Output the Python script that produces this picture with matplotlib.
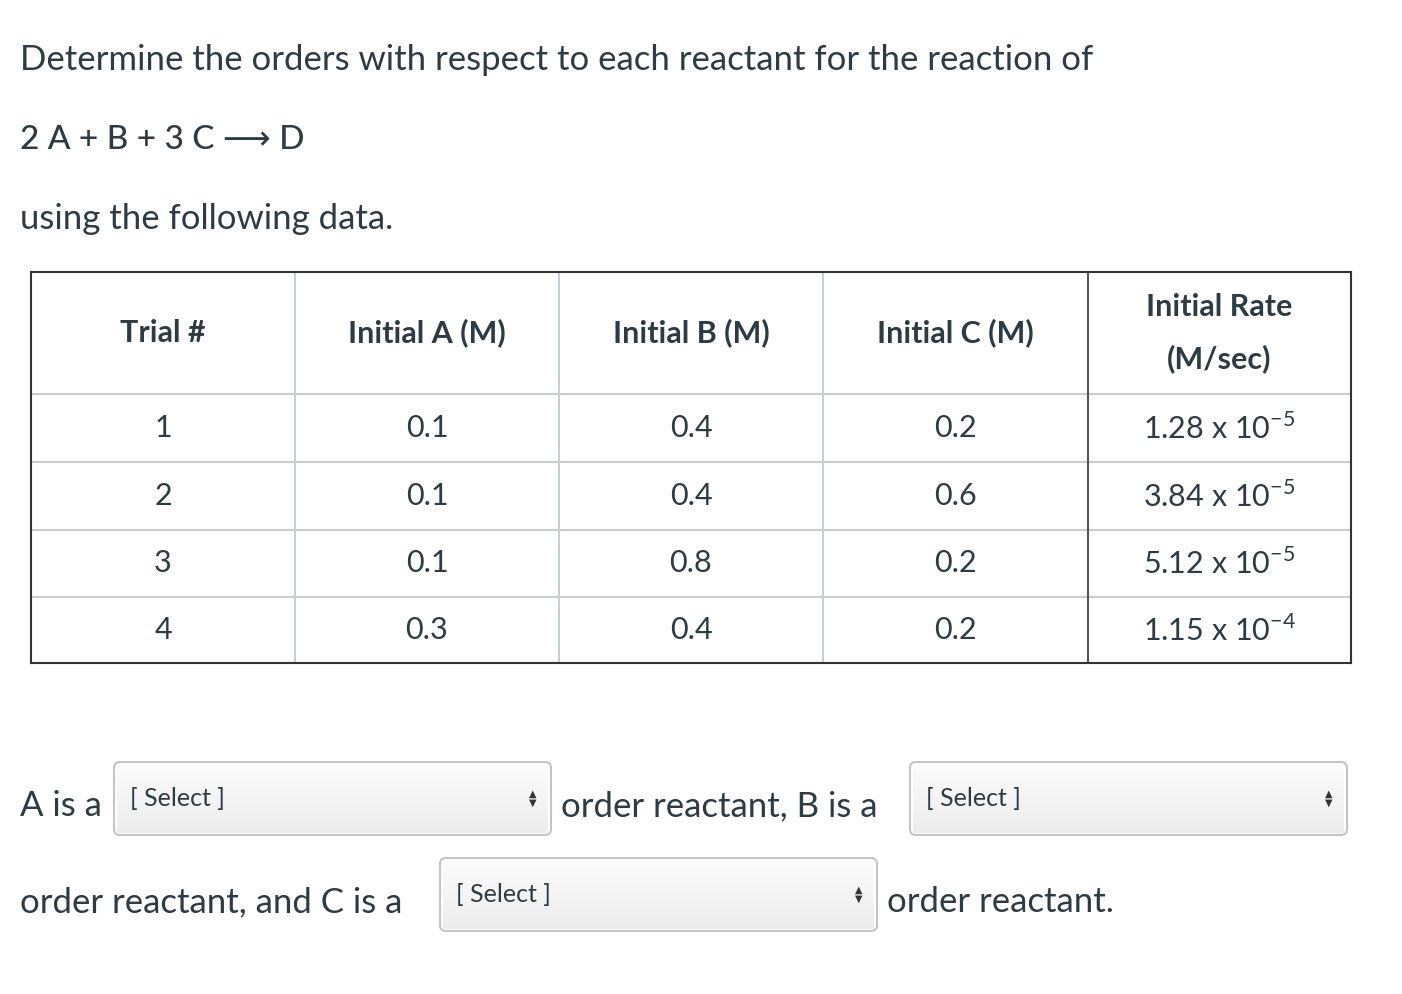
import matplotlib.pyplot as plt
from matplotlib.patches import FancyBboxPatch
import numpy as np

plt.rcParams['font.family'] = ['Lato', 'DejaVu Sans']
plt.rcParams['mathtext.fontset'] = 'custom'
plt.rcParams['mathtext.rm'] = 'Lato'

headers = ["Trial #", "Initial A (M)", "Initial B (M)", "Initial C (M)", "Initial Rate\n(M/sec)"]
trials = ["1", "2", "3", "4"]
conc_a = ["0.1", "0.1", "0.1", "0.3"]
conc_b = ["0.4", "0.4", "0.8", "0.4"]
conc_c = ["0.2", "0.6", "0.2", "0.2"]
rate_mant = ["1.28", "3.84", "5.12", "1.15"]
rate_exp = ["-5", "-5", "-5", "-4"]

txt = '#2d3b45'
fig = plt.figure(figsize=(14.02, 9.94), dpi=100)
ax = fig.add_axes([0, 0, 1, 1])
ax.set_xlim(0, 1402)
ax.set_ylim(994, 0)
ax.axis('off')

ax.text(20, 60, "Determine the orders with respect to each reactant for the reaction of",
        fontsize=25, color=txt, va='center')
ax.text(20, 140, "2 A + B + 3 C \u27f6 D", fontsize=24, color=txt, va='center', fontweight='medium')
ax.text(20, 219, "using the following data.", fontsize=25, color=txt, va='center')

# table grid
col_x = [31, 295, 559, 823, 1088, 1351]
row_y = [272, 394, 462, 530, 597, 663]
light = '#c7cdd1'
for y in row_y[1:-1]:
    ax.plot([col_x[0], col_x[-1]], [y, y], color=light, lw=1.5)
for x in col_x[1:-1]:
    ax.plot([x, x], [row_y[0], row_y[-1]], color=light if x != 1088 else '#555', lw=1.5)
for y in (row_y[0], row_y[-1]):
    ax.plot([col_x[0], col_x[-1]], [y, y], color='#333', lw=1.5)
for x in (col_x[0], col_x[-1]):
    ax.plot([x, x], [row_y[0], row_y[-1]], color='#333', lw=1.5)

centers = [(col_x[i] + col_x[i + 1]) / 2 for i in range(5)]
for i, h in enumerate(headers):
    ax.text(centers[i], 333, h, fontsize=22, fontweight='bold', color=txt,
            ha='center', va='center', linespacing=2.0)

cols = [trials, conc_a, conc_b, conc_c]
for r in range(4):
    yc = (row_y[r + 1] + row_y[r + 2]) / 2
    for c in range(4):
        ax.text(centers[c], yc, cols[c][r], fontsize=22, color=txt, ha='center', va='center')
    ax.text(centers[4], yc, rate_mant[r] + " x 10$^{" + rate_exp[r] + "}$",
            fontsize=22, color=txt, ha='center', va='center')


def select_box(x0, y0, w, h):
    n = 30
    for k in range(n):
        g = 0.985 - 0.06 * k / n
        ax.add_patch(plt.Rectangle((x0 + 3, y0 + 3 + k * (h - 6) / n), w - 6, (h - 6) / n + 0.5,
                                   color=(g, g, g), lw=0, zorder=1))
    ax.add_patch(FancyBboxPatch((x0, y0), w, h, boxstyle='round,pad=0,rounding_size=6',
                                fc='none', ec='#c4c4c4', lw=1.5, zorder=2))
    ax.text(x0 + 16, y0 + 37, "[ Select ]", fontsize=18, color=txt, va='center', zorder=3)
    ax.text(x0 + w - 18, y0 + h / 2, "\u25b2\n\u25bc", fontsize=7, color='#333',
            ha='center', va='center', linespacing=0.9, family='DejaVu Sans', zorder=3)


select_box(114, 762, 437, 73)
select_box(910, 762, 437, 73)
select_box(440, 858, 437, 73)

ax.text(20, 806, "A is a", fontsize=25, color=txt, va='center')
ax.text(561, 806, "order reactant, B is a", fontsize=25, color=txt, va='center')
ax.text(20, 902, "order reactant, and C is a", fontsize=25, color=txt, va='center')
ax.text(887, 902, "order reactant.", fontsize=25, color=txt, va='center')

fig.savefig('out.png', dpi=100)
